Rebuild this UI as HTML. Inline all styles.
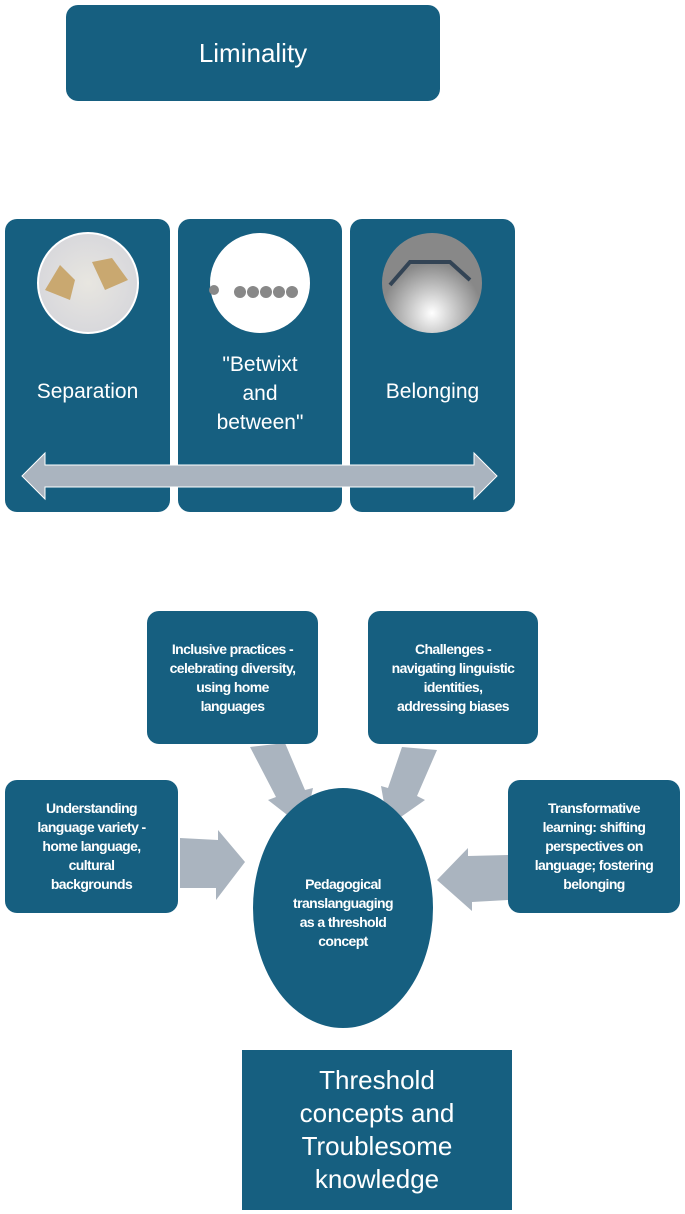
<!DOCTYPE html>
<html><head><meta charset="utf-8"><style>
body{margin:0;width:685px;height:1214px;background:#fff;position:relative;overflow:hidden;font-family:"Liberation Sans",sans-serif;color:#fff}
.b{position:absolute;background:#165f80;border-radius:12px;display:flex;align-items:center;justify-content:center;text-align:center}
.s{font-size:14px;line-height:19px;letter-spacing:-0.6px;font-weight:bold;-webkit-text-stroke:0}
</style></head><body>
<div class="b" style="left:66px;top:5px;width:374px;height:96px;font-size:26px">Liminality</div>
<div class="b" style="left:5px;top:219px;width:165px;height:293px"></div>
<div class="b" style="left:178px;top:219px;width:164px;height:293px"></div>
<div class="b" style="left:350px;top:219px;width:165px;height:293px"></div>
<svg style="position:absolute;left:0;top:0" width="685" height="1214">
<defs>
<radialGradient id="g1"><stop offset="0" stop-color="#e8e6e0"/><stop offset="1" stop-color="#d8d8dc"/></radialGradient>
<radialGradient id="g3" cx="0.5" cy="0.8"><stop offset="0" stop-color="#fff"/><stop offset="1" stop-color="#888"/></radialGradient>
</defs>
<circle cx="88" cy="283" r="50" fill="url(#g1)" stroke="#fff" stroke-width="2"/>
<path d="M45 290 L60 265 L75 280 L70 300 Z" fill="#c9a870"/><path d="M92 262 L112 258 L128 280 L105 290 Z" fill="#c9a870"/>
<circle cx="260" cy="283" r="50" fill="#fff"/>
<g fill="#888"><circle cx="240" cy="292" r="6"/><circle cx="253" cy="292" r="6"/><circle cx="266" cy="292" r="6"/><circle cx="279" cy="292" r="6"/><circle cx="292" cy="292" r="6"/><circle cx="214" cy="290" r="5"/></g>
<circle cx="432" cy="283" r="50" fill="url(#g3)"/>
<path d="M390 285 L410 262 L430 262 L450 262 L470 280" stroke="#345" stroke-width="4" fill="none"/>
<polygon points="22,476 45,453 45,465 474,465 474,453 497,476 474,499 474,487 45,487 45,499" fill="#aab4bf" stroke="#fff" stroke-width="1"/>
<g fill="#aab4bf">
<polygon points="250,747 285,743 305,790 313,788 304,828 268,800 276,797"/>
<polygon points="402,747 437,750 417,796 425,800 388,826 381,786 388,788"/>
<polygon points="180,838 218,840 218,830 245,862 216,900 216,888 180,888"/>
<polygon points="508,855 508,900 472,902 472,911 437,880 468,848 468,856"/>
</g>
<ellipse cx="343" cy="908" rx="90" ry="120" fill="#165f80"/>
</svg>
<div class="b" style="left:5px;top:262px;width:165px;height:260px;background:none;font-size:21px">Separation</div>
<div class="b" style="left:178px;top:338px;width:164px;height:110px;background:none;font-size:21px;line-height:29px">"Betwixt<br>and<br>between"</div>
<div class="b" style="left:350px;top:262px;width:165px;height:260px;background:none;font-size:21px">Belonging</div>
<div class="b s" style="left:147px;top:611px;width:171px;height:133px">Inclusive practices -<br>celebrating diversity,<br>using home<br>languages</div>
<div class="b s" style="left:368px;top:611px;width:170px;height:133px">Challenges -<br>navigating linguistic<br>identities,<br>addressing biases</div>
<div class="b s" style="left:5px;top:780px;width:173px;height:133px">Understanding<br>language variety -<br>home language,<br>cultural<br>backgrounds</div>
<div class="b s" style="left:508px;top:780px;width:172px;height:133px">Transformative<br>learning: shifting<br>perspectives on<br>language; fostering<br>belonging</div>
<div class="b s" style="left:273px;top:858px;width:140px;height:110px;background:none">Pedagogical<br>translanguaging<br>as a threshold<br>concept</div>
<div class="b" style="left:242px;top:1050px;width:270px;height:160px;border-radius:0;font-size:26px;line-height:33px">Threshold<br>concepts and<br>Troublesome<br>knowledge</div>
</body></html>
